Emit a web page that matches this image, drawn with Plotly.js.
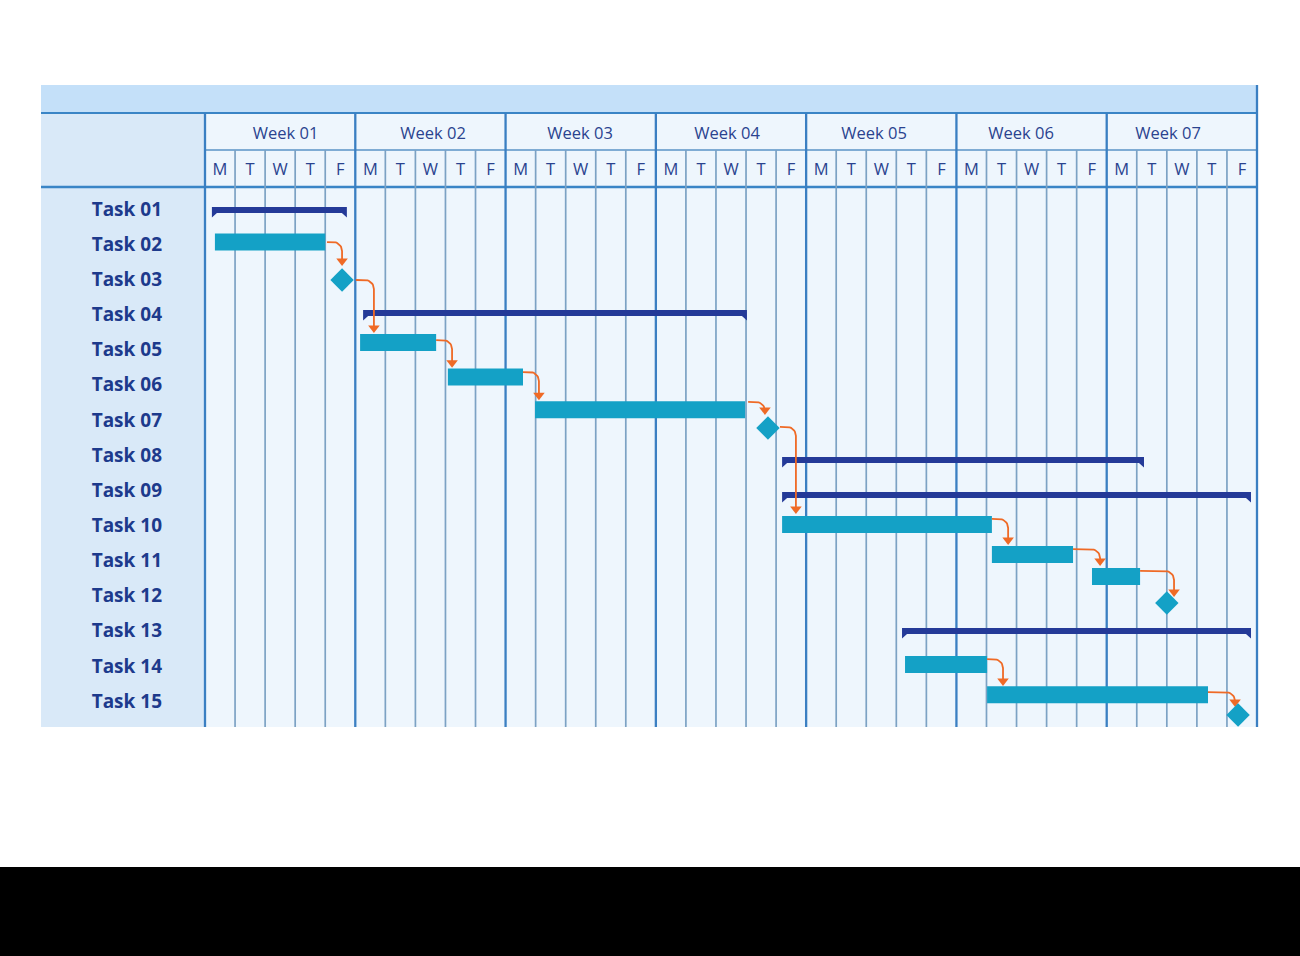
<!DOCTYPE html>
<html><head><meta charset="utf-8">
<script src="https://cdn.plot.ly/plotly-3.0.1.min.js"></script>
<style>html,body{margin:0;padding:0;background:#fff}#chart{width:1300px;height:956px}</style>
</head><body><div id="chart"></div>
<script>
// ---------------- data ----------------
const taskLabels = ['Task 01','Task 02','Task 03','Task 04','Task 05','Task 06','Task 07','Task 08',
                    'Task 09','Task 10','Task 11','Task 12','Task 13','Task 14','Task 15'];
const weekLabels = ['Week 01','Week 02','Week 03','Week 04','Week 05','Week 06','Week 07'];
const weekLabelPos = [2.68, 7.59, 12.48, 17.37, 22.26, 27.15, 32.04];   // label centres (day units)
const dayLetters = ['M','T','W','T','F'];
const numDays = 35;

// summary (bracket) bars: start day, end day, row position
const summaryStart = [0.23, 5.26, 19.2, 19.2, 23.19];
const summaryEnd   = [4.72, 18.03, 31.24, 34.8, 34.8];
const summaryRow   = [0.03, 2.96, 7.14, 8.14, 12.01];

// task bars: start day, end day, row position
const barStart = [0.33, 5.16, 8.08, 10.98, 19.2, 26.18, 29.51, 23.29, 26.02];
const barEnd   = [4.0, 7.69, 10.58, 17.97, 26.18, 28.88, 31.11, 26.02, 33.37];
const barRow   = [0.94, 3.80, 4.78, 5.71, 8.98, 9.83, 10.46, 12.96, 13.82];

// milestones
const msDay = [4.56, 18.73, 32.0, 34.37];
const msRow = [2.02, 6.23, 11.21, 14.40];

// dependency arrows: start point, turning day, arrow tip row
const arrFromDay = [4.06, 5.02, 7.69, 10.58, 18.07, 19.13, 26.18, 28.88, 31.11, 26.02, 33.37];
const arrFromRow = [0.94, 2.02, 3.73, 4.64, 5.49, 6.20, 8.82, 9.68, 10.30, 12.81, 13.75];
const arrTurnDay = [4.56, 5.62, 8.22, 11.11, 18.63, 19.66, 26.72, 29.78, 32.24, 26.55, 34.27];
const arrTipRow  = [1.62, 3.53, 4.52, 5.44, 5.86, 8.68, 9.56, 10.16, 11.04, 13.57, 14.17];

// ---------------- styling / geometry ----------------
const yRange = [14.74, -0.626];
const plotW = 1052, plotH = 540;
const pxDay = plotW / numDays;
const pxRow = plotH / (yRange[0] - yRange[1]);
const dx = p => p / pxDay, dy = p => p / pxRow;

const NAVY = '#243a98', TEAL = '#14a1c6', ORANGE = '#ef6a26';
const TEXT = '#1d3a8c';
const DAYLINE = '#7ca2c4', WEEKLINE = '#3a7fc2';

// summary bracket polygons
const sx = [], sy = [];
summaryStart.forEach((s, i) => {
  const e = summaryEnd[i], c = summaryRow[i];
  const h = dy(3), cap = dy(7.5), cw = dx(5);
  sx.push(s, e, e, e - cw, s + cw, s, s, null);
  sy.push(c - h, c - h, c + cap, c + h, c + h, c + cap, c - h, null);
});

// arrows
const ax = [], ay = [], hx = [], hy = [];
arrFromDay.forEach((x0, i) => {
  const y0 = arrFromRow[i], xt = arrTurnDay[i], tip = arrTipRow[i];
  const a = dx(9), b = dy(9);
  ax.push(x0); ay.push(y0);
  for (let k = 0; k <= 10; k++) {
    const th = -Math.PI / 2 + (Math.PI / 2) * k / 10;
    ax.push(xt - a + a * Math.cos(th)); ay.push(y0 + b + b * Math.sin(th));
  }
  const headC = tip - dy(5);
  ax.push(xt, null); ay.push(headC, null);
  hx.push(xt); hy.push(headC);
});

const traces = [
  { type: 'scatter', mode: 'lines', x: sx, y: sy, fill: 'toself', fillcolor: NAVY,
    line: { width: 0, color: NAVY }, hoverinfo: 'skip' },
  { type: 'bar', orientation: 'h', base: barStart, x: barEnd.map((e, i) => e - barStart[i]),
    y: barRow, width: dy(17), marker: { color: TEAL, line: { width: 0 } }, hoverinfo: 'skip' },
  { type: 'scatter', mode: 'lines', x: ax, y: ay, line: { color: ORANGE, width: 1.8 }, hoverinfo: 'skip' },
  { type: 'scatter', mode: 'markers', x: hx, y: hy,
    marker: { symbol: 'triangle-down', size: 10, color: ORANGE, line: { width: 0 } }, hoverinfo: 'skip' },
  { type: 'scatter', mode: 'markers', x: msDay, y: msRow,
    marker: { symbol: 'diamond', size: 18, color: TEAL, line: { width: 0 } }, hoverinfo: 'skip' },
  // empty traces so the header axes (days / weeks) are drawn
  { type: 'scatter', mode: 'markers', x: [], y: [], xaxis: 'x2', yaxis: 'y', hoverinfo: 'skip' },
  { type: 'scatter', mode: 'markers', x: [], y: [], xaxis: 'x3', yaxis: 'y', hoverinfo: 'skip' }
];

// ---------------- frame shapes ----------------
const pY = p => (727 - p) / plotH;   // paper y from page pixel
const pX = p => (p - 205) / plotW;   // paper x from page pixel
const yTopBand = pY(85), yWeek = pY(113), yDay = pY(150);
const xLeft = pX(41);

const shapes = [
  { type: 'rect', xref: 'paper', yref: 'paper', x0: pX(0), x1: pX(1300), y0: pY(867), y1: pY(956),
    fillcolor: '#000000', line: { width: 0 }, layer: 'below' },
  { type: 'rect', xref: 'paper', yref: 'paper', x0: xLeft, x1: 1, y0: yWeek, y1: yTopBand,
    fillcolor: '#c4e0f9', line: { width: 0 }, layer: 'below' },
  { type: 'rect', xref: 'paper', yref: 'paper', x0: xLeft, x1: 0, y0: 0, y1: yWeek,
    fillcolor: '#d9e9f8', line: { width: 0 }, layer: 'below' },
  { type: 'rect', xref: 'paper', yref: 'paper', x0: 0, x1: 1, y0: 0, y1: yWeek,
    fillcolor: '#eef6fd', line: { width: 0 }, layer: 'below' },
  { type: 'line', xref: 'paper', yref: 'paper', x0: 0, x1: 1, y0: yDay, y1: yDay,
    line: { color: '#5a93c6', width: 1.5 }, layer: 'below' },
  { type: 'line', xref: 'paper', yref: 'paper', x0: xLeft, x1: 1, y0: yWeek, y1: yWeek,
    line: { color: '#3a85c6', width: 2 }, layer: 'below' },
  { type: 'line', xref: 'paper', yref: 'paper', x0: xLeft, x1: 1, y0: 1, y1: 1,
    line: { color: '#3a85c6', width: 2.5 }, layer: 'below' },
  { type: 'line', xref: 'paper', yref: 'paper', x0: 0, x1: 0, y0: 0, y1: yWeek,
    line: { color: WEEKLINE, width: 2.3 }, layer: 'below' },
  { type: 'line', xref: 'paper', yref: 'paper', x0: 1, x1: 1, y0: 0, y1: yTopBand,
    line: { color: WEEKLINE, width: 2.3 }, layer: 'below' }
];
for (let d = 1; d < numDays; d++) {
  const isWeek = d % 5 === 0;
  shapes.push({ type: 'line', xref: 'x', yref: 'paper', x0: d, x1: d, y0: 0, y1: isWeek ? yWeek : yDay,
    line: { color: isWeek ? WEEKLINE : DAYLINE, width: isWeek ? 2.3 : 1.7 }, layer: 'below' });
}

const dayCenters = [], dayText = [];
for (let d = 0; d < numDays; d++) { dayCenters.push(d + 0.5); dayText.push(dayLetters[d % 5]); }

const layout = {
  width: 1300, height: 956,
  margin: { l: 205, r: 43, t: 187, b: 229, pad: 0 },
  paper_bgcolor: '#ffffff', plot_bgcolor: 'rgba(0,0,0,0)',
  font: { family: '"Open Sans", sans-serif', color: TEXT },
  showlegend: false, barmode: 'overlay',
  xaxis: { range: [0, numDays], showgrid: false, zeroline: false, showticklabels: false, ticks: '', fixedrange: true },
  xaxis2: { overlaying: 'x', anchor: 'y', side: 'top', range: [0, numDays], tickmode: 'array',
    tickvals: dayCenters, ticktext: dayText, showgrid: false, zeroline: false, ticks: '',
    ticklabelstandoff: 8, tickfont: { size: 16.5, color: '#2a438f' } },
  xaxis3: { overlaying: 'x', anchor: 'y', side: 'top', range: [0, numDays], tickmode: 'array',
    tickvals: weekLabelPos, ticktext: weekLabels, showgrid: false, zeroline: false, ticks: '',
    ticklabelstandoff: 44, tickfont: { size: 16.5, color: '#2a438f' } },
  yaxis: { range: yRange, tickmode: 'array', tickvals: taskLabels.map((t, i) => i), ticktext: taskLabels,
    showgrid: false, zeroline: false, ticks: '', ticklabelstandoff: 42,
    tickfont: { size: 19, weight: 'bold', color: TEXT } },
  shapes: shapes
};

Plotly.newPlot('chart', traces, layout, { displayModeBar: false, staticPlot: true });
</script>
</body></html>
